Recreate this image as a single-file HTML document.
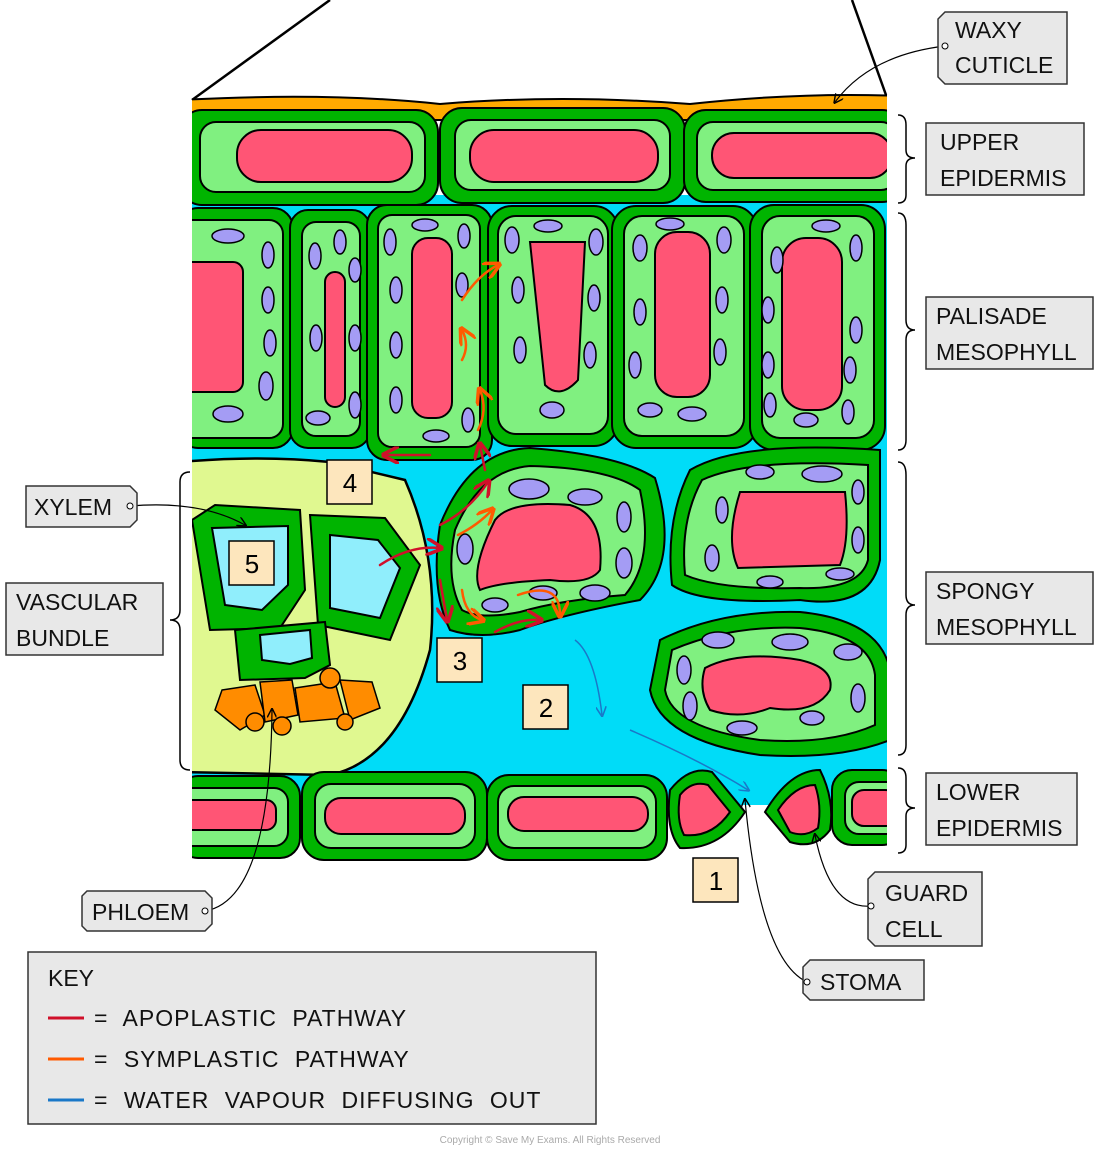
<!DOCTYPE html>
<html><head><meta charset="utf-8"><style>
html,body{margin:0;padding:0;background:#fff;}
svg{display:block;}
text{font-family:"Liberation Sans",sans-serif;}
</style></head><body>
<svg width="1100" height="1152" viewBox="0 0 1100 1152" xmlns="http://www.w3.org/2000/svg">
<defs>
<marker id="ar" viewBox="0 0 10 10" refX="8" refY="5" markerWidth="7" markerHeight="7" orient="auto"><path d="M0,0 L10,5 L0,10" fill="none" stroke="#d0102a" stroke-width="2"/></marker>
<marker id="ao" viewBox="0 0 10 10" refX="8" refY="5" markerWidth="7" markerHeight="7" orient="auto"><path d="M0,0 L10,5 L0,10" fill="none" stroke="#ff5a00" stroke-width="2"/></marker>
<marker id="ab" viewBox="0 0 10 10" refX="8" refY="5" markerWidth="7" markerHeight="7" orient="auto"><path d="M0,0 L10,5 L0,10" fill="none" stroke="#1a78c8" stroke-width="1.5"/></marker>
<marker id="ak" viewBox="0 0 10 10" refX="8" refY="5" markerWidth="8" markerHeight="8" orient="auto"><path d="M0,0 L10,5 L0,10" fill="none" stroke="#000" stroke-width="1.5"/></marker>
<clipPath id="main"><rect x="192" y="90" width="695" height="772"/></clipPath>
</defs>
<g stroke="#000" stroke-width="2.5" fill="none"><line x1="192" y1="100" x2="330" y2="0"/><line x1="852" y1="0" x2="886" y2="95"/></g>
<g clip-path="url(#main)" stroke="#000" stroke-width="2">
<rect x="180" y="195" width="720" height="610" fill="#00dcf8" stroke="none"/>
<path d="M180,100 Q330,92 440,104 Q560,94 690,104 Q800,92 900,96 L900,120 L180,120Z" fill="#ffaa00"/>
<g>
<rect x="180" y="110" width="258" height="95" rx="22" fill="#00b400"/><rect x="200" y="122" width="225" height="70" rx="16" fill="#80f080"/><rect x="237" y="130" width="175" height="52" rx="24" fill="#ff5575"/>
<rect x="440" y="108" width="245" height="95" rx="22" fill="#00b400"/><rect x="455" y="120" width="215" height="70" rx="16" fill="#80f080"/><rect x="470" y="130" width="188" height="52" rx="24" fill="#ff5575"/>
<rect x="684" y="110" width="220" height="92" rx="22" fill="#00b400"/><rect x="697" y="122" width="200" height="68" rx="16" fill="#80f080"/><rect x="712" y="133" width="180" height="45" rx="22" fill="#ff5575"/>
</g>
<g>
<rect x="178" y="208" width="115" height="240" rx="20" fill="#00b400"/><rect x="178" y="220" width="105" height="218" rx="14" fill="#80f080"/><rect x="178" y="262" width="65" height="130" rx="10" fill="#ff5575"/>
<rect x="290" y="210" width="80" height="238" rx="18" fill="#00b400"/><rect x="302" y="222" width="58" height="214" rx="14" fill="#80f080"/><rect x="325" y="272" width="20" height="135" rx="10" fill="#ff5575"/>
<rect x="367" y="205" width="125" height="255" rx="20" fill="#00b400"/><rect x="378" y="215" width="102" height="232" rx="14" fill="#80f080"/><rect x="412" y="238" width="40" height="180" rx="16" fill="#ff5575"/>
<rect x="488" y="206" width="130" height="240" rx="24" fill="#00b400"/><rect x="498" y="216" width="110" height="218" rx="18" fill="#80f080"/><path d="M530,242 L585,242 L578,380 Q560,400 545,385 Z" fill="#ff5575"/>
<rect x="612" y="206" width="145" height="242" rx="24" fill="#00b400"/><rect x="624" y="216" width="120" height="220" rx="18" fill="#80f080"/><rect x="655" y="232" width="55" height="165" rx="22" fill="#ff5575"/>
<rect x="750" y="205" width="135" height="245" rx="24" fill="#00b400"/><rect x="762" y="216" width="112" height="222" rx="18" fill="#80f080"/><rect x="782" y="238" width="60" height="172" rx="24" fill="#ff5575"/>
</g>
<g fill="#a49cf4" stroke-width="1.5">
<ellipse cx="228" cy="236" rx="16" ry="7"/><ellipse cx="268" cy="255" rx="6" ry="13"/><ellipse cx="268" cy="300" rx="6" ry="13"/><ellipse cx="270" cy="343" rx="6" ry="13"/><ellipse cx="266" cy="386" rx="7" ry="14"/><ellipse cx="228" cy="414" rx="15" ry="8"/>
<ellipse cx="315" cy="256" rx="6" ry="13"/><ellipse cx="340" cy="242" rx="6" ry="12"/><ellipse cx="355" cy="270" rx="6" ry="12"/><ellipse cx="316" cy="338" rx="6" ry="13"/><ellipse cx="355" cy="338" rx="6" ry="13"/><ellipse cx="355" cy="405" rx="6" ry="13"/><ellipse cx="318" cy="418" rx="12" ry="7"/>
<ellipse cx="425" cy="225" rx="13" ry="6"/><ellipse cx="390" cy="242" rx="6" ry="13"/><ellipse cx="464" cy="236" rx="6" ry="12"/><ellipse cx="396" cy="290" rx="6" ry="13"/><ellipse cx="462" cy="285" rx="6" ry="12"/><ellipse cx="396" cy="345" rx="6" ry="13"/><ellipse cx="396" cy="400" rx="6" ry="13"/><ellipse cx="468" cy="420" rx="6" ry="12"/><ellipse cx="436" cy="436" rx="13" ry="6"/>
<ellipse cx="548" cy="226" rx="14" ry="6"/><ellipse cx="512" cy="240" rx="7" ry="13"/><ellipse cx="596" cy="242" rx="7" ry="13"/><ellipse cx="518" cy="290" rx="6" ry="13"/><ellipse cx="594" cy="298" rx="6" ry="13"/><ellipse cx="520" cy="350" rx="6" ry="13"/><ellipse cx="590" cy="355" rx="6" ry="13"/><ellipse cx="552" cy="410" rx="12" ry="8"/>
<ellipse cx="670" cy="224" rx="14" ry="6"/><ellipse cx="640" cy="248" rx="7" ry="13"/><ellipse cx="724" cy="240" rx="7" ry="13"/><ellipse cx="640" cy="312" rx="6" ry="13"/><ellipse cx="722" cy="300" rx="6" ry="13"/><ellipse cx="635" cy="365" rx="6" ry="13"/><ellipse cx="720" cy="352" rx="6" ry="13"/><ellipse cx="650" cy="410" rx="12" ry="7"/><ellipse cx="692" cy="414" rx="14" ry="7"/>
<ellipse cx="826" cy="226" rx="14" ry="6"/><ellipse cx="777" cy="260" rx="6" ry="13"/><ellipse cx="856" cy="248" rx="6" ry="13"/><ellipse cx="768" cy="310" rx="6" ry="13"/><ellipse cx="856" cy="330" rx="6" ry="13"/><ellipse cx="768" cy="365" rx="6" ry="13"/><ellipse cx="850" cy="370" rx="6" ry="13"/><ellipse cx="770" cy="405" rx="6" ry="12"/><ellipse cx="848" cy="412" rx="6" ry="12"/><ellipse cx="806" cy="420" rx="12" ry="7"/>
</g>
<path d="M180,462 Q260,455 330,462 L405,480 Q440,560 430,650 Q400,760 330,775 L180,772Z" fill="#e0f890" stroke-width="2.5"/>
<path d="M192,520 L215,505 L300,510 L305,590 L280,628 L210,630 Z" fill="#00b400"/><path d="M212,528 L288,526 L288,585 L262,610 L225,605 Z" fill="#90eefc"/>
<path d="M310,515 L385,518 L420,565 L390,640 L318,625 Z" fill="#00b400"/><path d="M330,535 L378,540 L400,568 L380,618 L330,608 Z" fill="#90eefc"/>
<path d="M235,630 L325,622 L330,665 L305,678 L240,680 Z" fill="#00b400"/><path d="M260,635 L310,630 L312,658 L290,664 L262,660 Z" fill="#90eefc"/>
<g fill="#ff8c00" stroke-width="1.5"><path d="M222,690 L255,685 L265,715 L240,730 L215,710Z"/><path d="M260,682 L292,680 L298,715 L265,722Z"/><path d="M295,688 L335,682 L345,718 L300,722Z"/><path d="M340,680 L372,682 L380,708 L350,720Z"/><circle cx="330" cy="678" r="10"/><circle cx="255" cy="722" r="9"/><circle cx="282" cy="726" r="9"/><circle cx="345" cy="722" r="8"/></g>
<path d="M440,525 Q470,450 530,448 Q620,455 655,478 Q680,560 640,600 Q560,615 520,630 Q480,640 450,630 Q430,590 440,525Z" fill="#00b400"/>
<path d="M455,530 Q480,470 530,466 Q610,468 640,490 Q655,560 625,595 Q560,600 520,612 Q480,620 462,610 Q445,580 455,530Z" fill="#80f080"/>
<path d="M495,520 Q510,500 570,505 Q605,515 600,570 Q590,585 550,580 Q500,582 480,590 Q470,570 495,520Z" fill="#ff5575"/>
<path d="M690,470 Q740,440 880,450 L880,560 Q870,610 800,600 Q700,605 672,585 Q665,520 690,470Z" fill="#00b400"/>
<path d="M702,480 Q750,458 868,465 L868,560 Q860,590 800,588 Q720,590 685,575 Q680,520 702,480Z" fill="#80f080"/>
<path d="M740,492 L845,492 Q850,540 840,565 L738,568 Q725,540 740,492Z" fill="#ff5575"/>
<path d="M660,640 Q720,610 800,612 Q880,620 890,670 L890,740 Q840,760 760,755 Q660,740 650,690Z" fill="#00b400"/>
<path d="M672,650 Q730,625 800,628 Q870,635 875,675 L875,725 Q830,745 760,740 Q672,728 665,690Z" fill="#80f080"/>
<path d="M705,668 Q740,650 800,660 Q835,668 830,690 Q815,715 770,708 Q740,720 710,710 Q698,690 705,668Z" fill="#ff5575"/>
<g fill="#a49cf4" stroke-width="1.5">
<ellipse cx="529" cy="489" rx="20" ry="10"/><ellipse cx="585" cy="497" rx="17" ry="8"/><ellipse cx="624" cy="517" rx="7" ry="15"/><ellipse cx="465" cy="549" rx="8" ry="15"/><ellipse cx="624" cy="563" rx="8" ry="15"/><ellipse cx="495" cy="605" rx="13" ry="7"/><ellipse cx="543" cy="593" rx="14" ry="7"/><ellipse cx="595" cy="593" rx="15" ry="8"/>
<ellipse cx="760" cy="472" rx="14" ry="7"/><ellipse cx="822" cy="474" rx="20" ry="8"/><ellipse cx="722" cy="510" rx="6" ry="13"/><ellipse cx="858" cy="492" rx="6" ry="12"/><ellipse cx="712" cy="558" rx="7" ry="13"/><ellipse cx="858" cy="540" rx="6" ry="13"/><ellipse cx="770" cy="582" rx="13" ry="6"/><ellipse cx="840" cy="574" rx="14" ry="6"/>
<ellipse cx="718" cy="640" rx="16" ry="8"/><ellipse cx="790" cy="642" rx="18" ry="8"/><ellipse cx="848" cy="652" rx="14" ry="8"/><ellipse cx="684" cy="670" rx="7" ry="14"/><ellipse cx="690" cy="706" rx="7" ry="14"/><ellipse cx="858" cy="698" rx="7" ry="14"/><ellipse cx="742" cy="728" rx="15" ry="7"/><ellipse cx="812" cy="718" rx="12" ry="7"/>
</g>
<rect x="178" y="776" width="122" height="82" rx="20" fill="#00b400"/><rect x="178" y="788" width="110" height="58" rx="14" fill="#80f080"/><rect x="178" y="800" width="98" height="30" rx="10" fill="#ff5575"/>
<rect x="302" y="772" width="185" height="88" rx="22" fill="#00b400"/><rect x="315" y="784" width="160" height="64" rx="16" fill="#80f080"/><rect x="325" y="798" width="140" height="36" rx="16" fill="#ff5575"/>
<rect x="487" y="775" width="180" height="85" rx="22" fill="#00b400"/><rect x="498" y="786" width="158" height="62" rx="16" fill="#80f080"/><rect x="508" y="797" width="140" height="34" rx="16" fill="#ff5575"/>
<path d="M670,790 Q690,765 712,772 L745,812 Q720,850 680,848 Q665,830 670,790Z" fill="#00b400"/><path d="M680,795 Q692,780 708,785 L730,812 Q712,838 684,835 Q676,820 680,795Z" fill="#ff5575"/>
<path d="M765,812 Q790,770 820,770 Q835,800 830,830 Q815,850 790,842 Z" fill="#00b400"/><path d="M778,810 Q795,785 815,785 Q822,805 818,828 Q805,838 790,832Z" fill="#ff5575"/>
<rect x="832" y="770" width="70" height="75" rx="20" fill="#00b400"/><rect x="845" y="782" width="55" height="52" rx="14" fill="#80f080"/><rect x="852" y="790" width="45" height="36" rx="12" fill="#ff5575"/>
</g>
<g fill="none" stroke-width="2.5" stroke-linecap="round">
<path d="M430,455 L385,455" stroke="#d0102a" marker-end="url(#ar)"/>
<path d="M485,470 L480,445" stroke="#d0102a" marker-end="url(#ar)"/>
<path d="M440,525 Q470,510 488,482" stroke="#d0102a" marker-end="url(#ar)"/>
<path d="M380,565 Q410,545 440,548" stroke="#d0102a" marker-end="url(#ar)"/>
<path d="M440,580 L447,620" stroke="#d0102a" marker-end="url(#ar)"/>
<path d="M495,632 Q520,618 540,620" stroke="#d0102a" marker-end="url(#ar)"/>
<path d="M458,535 Q478,525 492,510" stroke="#ff5a00" marker-end="url(#ao)"/>
<path d="M462,590 Q465,615 482,620" stroke="#ff5a00" marker-end="url(#ao)"/>
<path d="M518,595 Q560,580 560,615" stroke="#ff5a00" marker-end="url(#ao)"/>
<path d="M462,360 Q470,345 462,330" stroke="#ff5a00" marker-end="url(#ao)"/>
<path d="M478,430 Q488,410 480,390" stroke="#ff5a00" marker-end="url(#ao)"/>
<path d="M462,300 Q478,275 498,265" stroke="#ff5a00" marker-end="url(#ao)"/>
</g>
<g fill="none" stroke="#1a78c8" stroke-width="1.5">
<path d="M575,640 Q595,655 602,715" marker-end="url(#ab)"/>
<path d="M630,730 Q700,760 748,790" marker-end="url(#ab)"/>
</g>
<g fill="#fde6bd" stroke="#000" stroke-width="1.5">
<rect x="327" y="460" width="45" height="44"/><rect x="229" y="541" width="45" height="44"/><rect x="437" y="638" width="45" height="44"/><rect x="523" y="685" width="45" height="44"/><rect x="693" y="858" width="45" height="44"/>
</g>
<g font-size="26" text-anchor="middle" fill="#000"><text x="350" y="492">4</text><text x="252" y="573">5</text><text x="460" y="670">3</text><text x="546" y="717">2</text><text x="716" y="890">1</text></g>
<g fill="none" stroke="#000" stroke-width="1.5">
<path d="M898,115 Q906,115 906,125 L906,150 Q906,158 915,158 Q906,158 906,166 L906,195 Q906,203 898,203"/>
<path d="M898,213 Q906,213 906,225 L906,320 Q906,330 915,330 Q906,330 906,340 L906,440 Q906,450 898,450"/>
<path d="M898,462 Q906,462 906,475 L906,595 Q906,605 915,605 Q906,605 906,615 L906,745 Q906,755 898,755"/>
<path d="M898,768 Q906,768 906,778 L906,800 Q906,808 915,808 Q906,808 906,816 L906,845 Q906,853 898,853"/>
<path d="M190,472 Q180,472 180,482 L180,610 Q180,620 170,620 Q180,620 180,630 L180,760 Q180,770 190,770"/>
</g>
<g fill="none" stroke="#000" stroke-width="1.2">
<path d="M945,46 Q870,55 835,102" marker-end="url(#ak)"/>
<path d="M130,506 Q200,500 245,525" marker-end="url(#ak)"/>
<path d="M205,911 Q270,900 272,710" marker-end="url(#ak)"/>
<path d="M807,982 Q760,960 745,800" marker-end="url(#ak)"/>
<path d="M871,906 Q830,910 815,835" marker-end="url(#ak)"/>
</g>
<g fill="#e8e8e8" stroke="#333" stroke-width="1.5">
<path d="M945,12 L1067,12 L1067,84 L945,84 L938,77 L938,19Z"/>
<rect x="926" y="123" width="158" height="72"/>
<rect x="926" y="297" width="167" height="72"/>
<rect x="926" y="572" width="167" height="72"/>
<rect x="926" y="773" width="151" height="72"/>
<path d="M26,486 L130,486 L137,493 L137,520 L130,527 L26,527Z"/>
<rect x="6" y="583" width="157" height="72"/>
<path d="M87,891 L205,891 L212,898 L212,924 L205,931 L87,931 L82,926 L82,896Z"/>
<path d="M875,872 L982,872 L982,946 L875,946 L868,939 L868,879Z"/>
<path d="M810,960 L924,960 L924,1000 L810,1000 L803,993 L803,967Z"/>
<rect x="28" y="952" width="568" height="172"/>
</g>
<g fill="#fff" stroke="#000" stroke-width="1"><circle cx="945" cy="46" r="3"/><circle cx="130" cy="506" r="3"/><circle cx="205" cy="911" r="3"/><circle cx="871" cy="906" r="3"/><circle cx="807" cy="982" r="3"/></g>
<g font-size="23" fill="#111">
<text x="955" y="38">WAXY</text><text x="955" y="73">CUTICLE</text>
<text x="940" y="150">UPPER</text><text x="940" y="186">EPIDERMIS</text>
<text x="936" y="324">PALISADE</text><text x="936" y="360">MESOPHYLL</text>
<text x="936" y="599">SPONGY</text><text x="936" y="635">MESOPHYLL</text>
<text x="936" y="800">LOWER</text><text x="936" y="836">EPIDERMIS</text>
<text x="34" y="515">XYLEM</text>
<text x="16" y="610">VASCULAR</text><text x="16" y="646">BUNDLE</text>
<text x="92" y="920">PHLOEM</text>
<text x="885" y="901">GUARD</text><text x="885" y="937">CELL</text>
<text x="820" y="990">STOMA</text>
<text x="48" y="986">KEY</text>
</g>
<g font-size="23" fill="#111" word-spacing="8" letter-spacing="1">
<text x="94" y="1026">= APOPLASTIC  PATHWAY</text>
<text x="94" y="1067">= SYMPLASTIC  PATHWAY</text>
<text x="94" y="1108">= WATER VAPOUR DIFFUSING OUT</text>
</g>
<g stroke-width="3"><line x1="48" y1="1018" x2="84" y2="1018" stroke="#d0102a"/><line x1="48" y1="1059" x2="84" y2="1059" stroke="#ff5a00"/><line x1="48" y1="1100" x2="84" y2="1100" stroke="#1a78c8"/></g>
<text x="550" y="1143" font-size="10" fill="#aaa" text-anchor="middle">Copyright © Save My Exams. All Rights Reserved</text>
</svg>
</body></html>
